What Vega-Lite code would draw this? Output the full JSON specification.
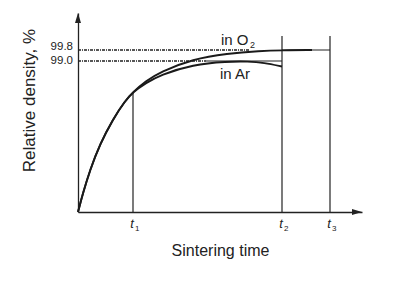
{
  "$schema": "https://vega.github.io/schema/vega-lite/v6.json",
  "width": 284,
  "height": 199,
  "padding": {"left": 78, "top": 13, "right": 51, "bottom": 85},
  "autosize": {"type": "none"},
  "config": {
    "view": {"stroke": null},
    "font": "Liberation Sans",
    "text": {"font": "Liberation Sans", "color": "#222"}
  },
  "datasets": {
    "curves": [
      {"series": "O2", "x": 0, "y": 0}, {"series": "O2", "x": 5, "y": 19}, {"series": "O2", "x": 12, "y": 42},
      {"series": "O2", "x": 22, "y": 68}, {"series": "O2", "x": 35, "y": 93}, {"series": "O2", "x": 47, "y": 111},
      {"series": "O2", "x": 55, "y": 120}, {"series": "O2", "x": 68, "y": 131}, {"series": "O2", "x": 82, "y": 140},
      {"series": "O2", "x": 115, "y": 153}, {"series": "O2", "x": 149, "y": 158.5}, {"series": "O2", "x": 182, "y": 161},
      {"series": "O2", "x": 204, "y": 161.7}, {"series": "O2", "x": 234, "y": 162},
      {"series": "Ar", "x": 0, "y": 0}, {"series": "Ar", "x": 5, "y": 19}, {"series": "Ar", "x": 12, "y": 42},
      {"series": "Ar", "x": 22, "y": 68}, {"series": "Ar", "x": 35, "y": 93}, {"series": "Ar", "x": 47, "y": 111},
      {"series": "Ar", "x": 55, "y": 120}, {"series": "Ar", "x": 68, "y": 129}, {"series": "Ar", "x": 82, "y": 137},
      {"series": "Ar", "x": 115, "y": 147.5}, {"series": "Ar", "x": 149, "y": 150.5}, {"series": "Ar", "x": 170, "y": 150.6},
      {"series": "Ar", "x": 186, "y": 149.3}, {"series": "Ar", "x": 204, "y": 145.5}
    ],
    "dotted": [
      {"level": "99.8", "x": 0, "x2": 172, "y": 162},
      {"level": "99.0", "x": 0, "x2": 128, "y": 151}
    ],
    "solid": [
      {"x": 128, "x2": 204, "y": 151, "y2": 151},
      {"x": 204, "x2": 252, "y": 162, "y2": 162},
      {"x": 55, "x2": 55, "y": 0, "y2": 120},
      {"x": 204, "x2": 204, "y": 0, "y2": 176},
      {"x": 252, "x2": 252, "y": 0, "y2": 176}
    ],
    "levels": [
      {"label": "99.8", "x": 0, "y": 162},
      {"label": "99.0", "x": 0, "y": 151}
    ],
    "times": [
      {"label": "t", "sub": "1", "x": 55, "y": 0},
      {"label": "t", "sub": "2", "x": 204, "y": 0},
      {"label": "t", "sub": "3", "x": 252, "y": 0}
    ],
    "gases": [
      {"label": "in O", "sub": "2", "x": 143, "y": 167},
      {"label": "in Ar", "sub": "", "x": 142, "y": 133}
    ]
  },
  "encoding": {
    "x": {
      "field": "x", "type": "quantitative",
      "scale": {"domain": [0, 284], "nice": false, "zero": false},
      "axis": {
        "title": "Sintering time", "labels": false, "ticks": false, "grid": false,
        "domainColor": "#222", "domainWidth": 1.3,
        "titleFont": "Liberation Sans", "titleFontSize": 16, "titleFontWeight": "normal",
        "titleColor": "#222", "titlePadding": 30
      }
    },
    "y": {
      "field": "y", "type": "quantitative",
      "scale": {"domain": [0, 199], "nice": false, "zero": false},
      "axis": {
        "title": "Relative density, %", "labels": false,
        "ticks": false, "grid": false,
        "domainColor": "#222", "domainWidth": 1.3,
        "titleFont": "Liberation Sans", "titleFontSize": 17, "titleFontWeight": "normal",
        "titleColor": "#222", "titleX": -44, "titleY": 87, "titleBaseline": "alphabetic"
      }
    }
  },
  "layer": [
    {
      "data": {"name": "dotted"},
      "mark": {"type": "rule", "color": "#222", "strokeWidth": 1.4, "strokeDash": [3, 1, 1, 1]},
      "encoding": {"x2": {"field": "x2"}}
    },
    {
      "data": {"name": "solid"},
      "mark": {"type": "rule", "color": "#222", "strokeWidth": 1.2},
      "encoding": {"x2": {"field": "x2"}, "y2": {"field": "y2"}}
    },
    {
      "data": {"name": "curves"},
      "mark": {"type": "line", "color": "#1a1a1a", "strokeWidth": 1.9, "interpolate": "basis"},
      "encoding": {"detail": {"field": "series"}}
    },
    {
      "data": {"values": [{"x": 0, "y": 199}]},
      "mark": {"type": "point", "shape": "M0,0L0.6,2L-0.6,2Z", "filled": true, "size": 100, "color": "#222", "opacity": 1}
    },
    {
      "data": {"values": [{"x": 284, "y": 0}]},
      "mark": {"type": "point", "shape": "M0,0L-2,-0.6L-2,0.6Z", "filled": true, "size": 100, "color": "#222", "opacity": 1}
    },
    {
      "data": {"name": "levels"},
      "transform": [{"filter": "datum.label == '99.8'"}],
      "mark": {"type": "text", "fontSize": 11.5, "baseline": "middle", "align": "right", "dx": -5, "dy": -3},
      "encoding": {"text": {"field": "label"}}
    },
    {
      "data": {"name": "levels"},
      "transform": [{"filter": "datum.label == '99.0'"}],
      "mark": {"type": "text", "fontSize": 11.5, "baseline": "middle", "align": "right", "dx": -5, "dy": 0},
      "encoding": {"text": {"field": "label"}}
    },
    {
      "data": {"name": "times"},
      "mark": {"type": "text", "fontStyle": "italic", "fontSize": 13, "baseline": "alphabetic", "align": "center", "dy": 16, "dx": -1},
      "encoding": {"text": {"field": "label"}}
    },
    {
      "data": {"name": "times"},
      "mark": {"type": "text", "fontSize": 8, "baseline": "alphabetic", "align": "left", "dy": 19, "dx": 2},
      "encoding": {"text": {"field": "sub"}}
    },
    {
      "data": {"name": "gases"},
      "mark": {"type": "text", "fontSize": 15, "baseline": "alphabetic", "align": "left"},
      "encoding": {"text": {"field": "label"}}
    },
    {
      "data": {"name": "gases"},
      "mark": {"type": "text", "fontSize": 9, "baseline": "alphabetic", "align": "left", "dx": 29, "dy": 3},
      "encoding": {"text": {"field": "sub"}}
    }
  ]
}
